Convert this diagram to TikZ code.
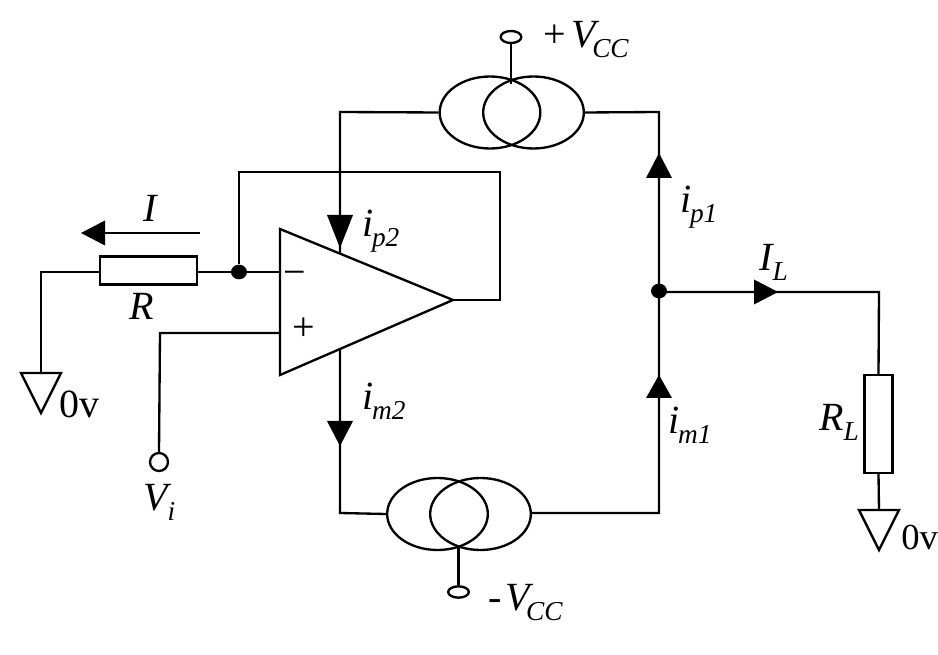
\documentclass[tikz,border=0pt]{standalone}
\usepackage{fontspec}
\setmainfont{Liberation Serif}
\usetikzlibrary{shapes.geometric}
\tikzset{
 wire/.style={line width=1.75pt,black,line join=miter},
 txt/.style={inner sep=0pt,anchor=base west,font=\fontsize{30}{32}\selectfont},
 tip/.style={fill=black,draw=none},
 dot/.style={ellipse,fill=black,draw=none,inner sep=0pt,minimum width=12pt,minimum height=11pt},
 term/.style={ellipse,draw=black,line width=1.75pt,fill=white,inner sep=0pt},
 res/.style={rectangle,draw=black,line width=1.75pt,fill=white,inner sep=0pt},
 coil/.style={ellipse,draw=black,line width=1.75pt,inner sep=0pt,minimum width=75.5pt,minimum height=54pt},
}
% label: italic letter with an italic subscript
\newcommand{\ilabel}[3]{#1\kern#3\raisebox{-7.5pt}{\fontsize{20.5}{24}\selectfont #2}}
\begin{document}
\begin{tikzpicture}[x=0.75pt,y=-0.75pt]
\useasboundingbox (0,0) rectangle (938,655);
% coordinates
\coordinate (ampA) at (280,229);
\coordinate (ampB) at (280,375);
\coordinate (ampC) at (453,300);
\coordinate (inN) at (280,272);
\coordinate (inP) at (280,333);
\coordinate (ampT) at (340,253);
\coordinate (ampD) at (340,350);
\coordinate (tl) at (340,112);
\coordinate (tr) at (659,112);
\coordinate (bl) at (340,513);
\coordinate (br) at (659,513);
\coordinate (fb1) at (239,172);
\coordinate (fb2) at (500,172);
\coordinate (fb3) at (500,300);
\coordinate (gl) at (41,272);
\coordinate (gA) at (41,373);
\coordinate (vturn) at (160,333);
\coordinate (oturn) at (879,292);
\coordinate (gB) at (879,510);
\coordinate (iA) at (200,233);
\coordinate (iB) at (100,233);
% nodes
\node[coil] (topL) at (490,112.5) {};
\node[coil] (topR) at (533.5,112.5) {};
\node[coil] (botL) at (437.5,514) {};
\node[coil] (botR) at (480.5,514) {};
\node[term,minimum width=15.5pt,minimum height=9pt] (tV) at (511,37) {};
\node[term,minimum width=15.5pt,minimum height=8.5pt] (bV) at (458.5,592) {};
\node[term,minimum width=13.5pt,minimum height=13.5pt] (vi) at (159,462) {};
\node[res,minimum width=72.5pt,minimum height=21pt] (R) at (148.5,270.5) {};
\node[res,minimum width=21pt,minimum height=73pt] (RL) at (878.5,424) {};
\node[dot] (n1) at (239,272) {};
\node[dot] (n2) at (659,291) {};
% connectors
\draw[wire] (tV.south) -- (511,84);
\draw[wire] (bV.north) -- (458.5,548);
\draw[wire] (topL.west) -- (tl) -- (ampT);
\draw[wire] (topR.east) -- (tr) -- (br) -- (br -| botR.east);
\draw[wire] (ampD) -- (bl) -- (botL.west);
\draw[wire] (gA) -- (gl) -- (gl -| R.west);
\draw[wire] (inN -| R.east) -- (inN);
\draw[wire] (n1) -- (fb1) -- (fb2) -- (fb3) -- (ampC);
\draw[wire] (vi.north) -- (vturn) -- (inP);
\draw[wire] (oturn -| n2) -- (oturn) -- (RL.north);
\draw[wire] (RL.south) -- (gB);
\draw[wire] (iA) -- (iB);
% op amp and grounds
\draw[wire] (ampA) -- (ampB) -- (ampC) -- cycle;
\draw[wire] (21,373) -- (61,373) -- (41,413) -- cycle;
\draw[wire] (859,510) -- (899,510) -- (879,550) -- cycle;
% arrowheads
\fill[tip] (81,233) -- (105,220.5) -- (105,245.5) -- cycle;
\fill[tip] (340,248) -- (327,215) -- (353,215) -- cycle;
\fill[tip] (340,446) -- (327,421) -- (353,421) -- cycle;
\fill[tip] (659,153) -- (646,178) -- (672,178) -- cycle;
\fill[tip] (659,375) -- (646,398) -- (672,398) -- cycle;
\fill[tip] (778,292) -- (754,279.5) -- (754,304.5) -- cycle;
% labels
\node[txt] (tplus) at (543,48) {+\kern4.5pt\itshape\ilabel{V}{CC}{-3pt}};
\node[txt] (tminus) at (488,610) {-\kern3pt\itshape\ilabel{V}{CC}{-3pt}};
\node[txt] at (362,237) {\itshape\ilabel{i}{p2}{-1pt}};
\node[txt] at (680,213) {\itshape\ilabel{i}{p1}{-1pt}};
\node[txt] at (362,410) {\itshape\ilabel{i}{m2}{-1pt}};
\node[txt] at (668,433) {\itshape\ilabel{i}{m1}{-1pt}};
\node[txt] at (759,271) {\itshape\ilabel{I}{L}{0pt}};
\node[txt] at (819,431) {\itshape\ilabel{R}{L}{0pt}};
\node[txt] at (143,510) {\itshape\ilabel{V}{i}{0pt}};
\node[txt] at (143,222) {\itshape I};
\node[txt] at (129,320) {\itshape R};
\node[txt] at (59,417) {0v};
\node[txt,font=\fontsize{27.5}{30}\selectfont] at (901,549) {0v};
\node[txt,anchor=center] at (295,278) {−};
\node[txt,anchor=center] at (304,329) {+};
\end{tikzpicture}
\end{document}
